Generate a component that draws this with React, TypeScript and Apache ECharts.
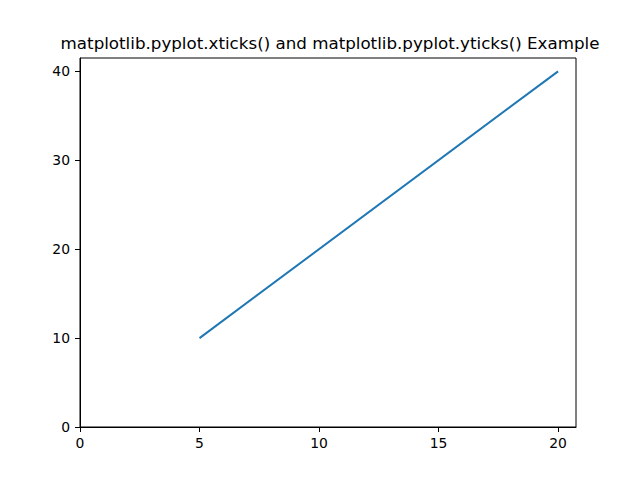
import React, { useEffect, useRef } from "react";
import * as echarts from "echarts";

const xValues = [5, 20];
const yValues = [10, 40];
const xTicks = [0, 5, 10, 15, 20];
const yTicks = [0, 10, 20, 30, 40];
const titleText = "matplotlib.pyplot.xticks() and matplotlib.pyplot.yticks() Example";

export default function App() {
  const ref = useRef<HTMLDivElement>(null);
  useEffect(() => {
    const chart = echarts.init(ref.current!, null, { renderer: "svg" });
    const font = "DejaVu Sans";
    chart.setOption({
      animation: false,
      title: {
        text: titleText,
        left: 325,
        top: 29,
        textAlign: "center",
        textStyle: { fontFamily: font, fontSize: 16.7, fontWeight: "normal", color: "#000" },
      },
      grid: {
        left: 80,
        top: 58,
        width: 496,
        height: 369,
        show: true,
        borderColor: "#000",
        borderWidth: 1,
        backgroundColor: "#fff",
      },
      xAxis: {
        type: "value",
        min: 0,
        max: 20.75,
        splitLine: { show: false },
        axisLine: { show: true, lineStyle: { color: "#000", width: 1 } },
        axisTick: { show: true, length: 5, customValues: xTicks, lineStyle: { color: "#000" } },
        axisLabel: { customValues: xTicks, color: "#000", fontFamily: font, fontSize: 13.9, margin: 9 },
      },
      yAxis: {
        type: "value",
        min: 0,
        max: 41.5,
        splitLine: { show: false },
        axisLine: { show: true, lineStyle: { color: "#000", width: 1 } },
        axisTick: { show: true, length: 5, customValues: yTicks, lineStyle: { color: "#000" } },
        axisLabel: { customValues: yTicks, color: "#000", fontFamily: font, fontSize: 13.9, margin: 10 },
      },
      series: [
        {
          type: "line",
          data: xValues.map((x, i) => [x, yValues[i]]),
          showSymbol: false,
          symbol: "none",
          lineStyle: { color: "#1f77b4", width: 2 },
        },
      ],
    });
    return () => chart.dispose();
  }, []);
  return (
    <div
      ref={ref}
      style={{ position: "absolute", left: 0, top: 0, width: 640, height: 480, background: "#fff" }}
    />
  );
}
